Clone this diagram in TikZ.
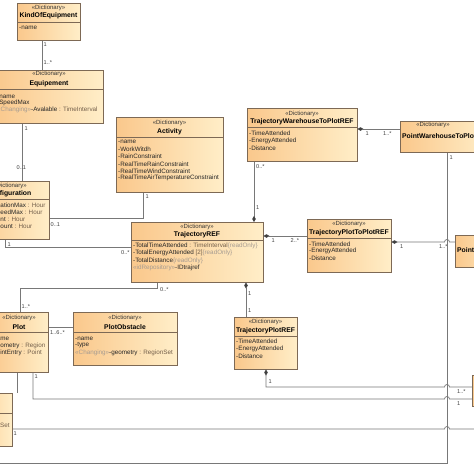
\documentclass[tikz,border=0pt]{standalone}
\usepackage{fontspec}
\setmainfont{Liberation Sans}
\usetikzlibrary{arrows.meta,shadows}
\definecolor{clsdark}{RGB}{250,200,140}
\definecolor{clslight}{RGB}{255,238,200}
\definecolor{clsline}{RGB}{125,105,85}
\definecolor{linegray}{RGB}{120,120,120}
\definecolor{ctype}{RGB}{115,95,75}
\definecolor{cgray}{RGB}{165,155,145}
\begin{document}
\begin{tikzpicture}[x=1pt, y=-1pt,
    cls/.style={rectangle, draw=clsline, line width=0.5pt, left color=clsdark, right color=clslight,
      anchor=north west, inner sep=0pt, drop shadow={shadow xshift=1.2pt, shadow yshift=-1.2pt, opacity=0.25}},
    sep/.style={draw=clsline, line width=0.4pt},
    stereo/.style={font=\fontsize{6}{7}\selectfont, text=black!80, inner sep=0pt},
    ttl/.style={font=\fontsize{6.8}{8}\selectfont\bfseries, inner sep=0pt},
    attr/.style={font=\fontsize{6.3}{7}\selectfont, text=black!85, anchor=west, inner sep=0pt},
    mult/.style={font=\fontsize{5.6}{6}\selectfont, text=black!75, anchor=west, inner sep=0pt},
    assoc/.style={draw=linegray, line width=0.7pt},
    comp/.style={assoc, {Diamond[length=6pt, width=3.5pt, color=black!75, fill=black!75]}-}]
  \fill[white] (0,0) rectangle (474,474);
  \useasboundingbox (0,0) rectangle (474,474);
  \clip (0,0) rectangle (474,474);

  % classes
  \node[cls, minimum width=63pt, minimum height=37pt] (kind) at (17,3) {};
  \draw[sep] (kind.west |- 0,22) -- (kind.east |- 0,22);
  \node[stereo] (kind-s) at (48.5,8) {«Dictionary»};
  \node[ttl] (kind-t) at (48.5,16) {KindOfEquipment};
  \node[attr] (kind-a1) at (19,28) {-name};

  \node[cls, minimum width=108pt, minimum height=53pt] (equip) at (-5,70) {};
  \draw[sep] (equip.west |- 0,89) -- (equip.east |- 0,89);
  \node[stereo] (equip-s) at (49,73.5) {«Dictionary»};
  \node[ttl] (equip-t) at (49,83.5) {Equipement};
  \node[attr] (equip-a1) at (-3,96.5) {-name};
  \node[attr] (equip-a2) at (-3,103) {-SpeedMax};
  \node[attr] (equip-a3) at (-3,110) {\textcolor{cgray}{«Changing»}-Avalable \textcolor{ctype}{: TimeInterval}};

  \node[cls, minimum width=78pt, minimum height=58pt] (config) at (-29,181) {};
  \draw[sep] (config.west |- 0,199) -- (config.east |- 0,199);
  \node[stereo] (config-s) at (10,185.5) {«Dictionary»};
  \node[ttl] (config-t) at (9,194) {Configuration};
  \node[attr] (config-a1) at (0.3,205) {ationMax \textcolor{ctype}{: Hour}};
  \node[attr] (config-a2) at (0.3,212) {eedMax \textcolor{ctype}{: Hour}};
  \node[attr] (config-a3) at (0.3,219) {nt \textcolor{ctype}{: Hour}};
  \node[attr] (config-a4) at (0.3,226) {ount \textcolor{ctype}{: Hour}};

  \node[cls, minimum width=107pt, minimum height=75pt] (activity) at (116,117) {};
  \draw[sep] (activity.west |- 0,137) -- (activity.east |- 0,137);
  \node[stereo] (activity-s) at (169.5,123) {«Dictionary»};
  \node[ttl] (activity-t) at (169.5,131.5) {Activity};
  \node[attr] (activity-a1) at (118,142.3) {-name};
  \node[attr] (activity-a2) at (118,149.5) {-WorkWitdh};
  \node[attr] (activity-a3) at (118,156.7) {-RainConstraint};
  \node[attr] (activity-a4) at (118,163.9) {-RealTimeRainConstraint};
  \node[attr] (activity-a5) at (118,171.1) {-RealTimeWindConstraint};
  \node[attr] (activity-a6) at (118,178.3) {-RealTimeAirTemperatureConstraint};

  \node[cls, minimum width=132pt, minimum height=60pt] (trajref) at (131,222) {};
  \draw[sep] (trajref.west |- 0,240.5) -- (trajref.east |- 0,240.5);
  \node[stereo] (trajref-s) at (197,226.5) {«Dictionary»};
  \node[ttl] (trajref-t) at (197,235) {TrajectoryREF};
  \node[attr] (trajref-a1) at (133,246) {-TotalTimeAttended \textcolor{ctype}{: TimeInterval}\textcolor{cgray}{\{readOnly\}}};
  \node[attr] (trajref-a2) at (133,253.3) {-TotalEnergyAttended \textcolor{ctype}{[2]}\textcolor{cgray}{\{readOnly\}}};
  \node[attr] (trajref-a3) at (133,260.6) {-TotalDistance\textcolor{cgray}{\{readOnly\}}};
  \node[attr] (trajref-a4) at (133,268) {\textcolor{cgray}{«idRepository»}-IDtrajref};

  \node[cls, minimum width=110pt, minimum height=53pt] (twp) at (247,108) {};
  \draw[sep] (twp.west |- 0,127) -- (twp.east |- 0,127);
  \node[stereo] (twp-s) at (302,113.5) {«Dictionary»};
  \node[ttl] (twp-t) at (302,122) {TrajectoryWarehouseToPlotREF};
  \node[attr] (twp-a1) at (249,133) {-TimeAttended};
  \node[attr] (twp-a2) at (249,140.5) {-EnergyAttended};
  \node[attr] (twp-a3) at (249,148) {-Distance};

  \node[cls, minimum width=84pt, minimum height=53pt] (tpp) at (307,219) {};
  \draw[sep] (tpp.west |- 0,238) -- (tpp.east |- 0,238);
  \node[stereo] (tpp-s) at (349,224) {«Dictionary»};
  \node[ttl] (tpp-t) at (349,232.5) {TrajectoryPlotToPlotREF};
  \node[attr] (tpp-a1) at (309,244) {-TimeAttended};
  \node[attr] (tpp-a2) at (309,251.3) {-EnergyAttended};
  \node[attr] (tpp-a3) at (309,258.6) {-Distance};

  \node[cls, minimum width=90pt, minimum height=31pt] (pwp) at (400,121) {};
  \node[stereo] (pwp-s) at (433,124.5) {«Dictionary»};
  \node[ttl, anchor=west] (pwp-t) at (402,136) {PointWarehouseToPlot};

  \node[cls, minimum width=50pt, minimum height=32pt] (point) at (455,235) {};
  \node[ttl, anchor=west] (point-t) at (457,250) {Point};

  \node[cls, minimum width=63pt, minimum height=52pt] (tpr) at (234,317) {};
  \draw[sep] (tpr.west |- 0,336) -- (tpr.east |- 0,336);
  \node[stereo] (tpr-s) at (265.5,322) {«Dictionary»};
  \node[ttl] (tpr-t) at (265.5,331) {TrajectoryPlotREF};
  \node[attr] (tpr-a1) at (236,341.5) {-TimeAttended};
  \node[attr] (tpr-a2) at (236,349) {-EnergyAttended};
  \node[attr] (tpr-a3) at (236,356.3) {-Distance};

  \node[cls, minimum width=58pt, minimum height=60pt] (plot) at (-10,312) {};
  \draw[sep] (plot.west |- 0,332) -- (plot.east |- 0,332);
  \node[stereo] (plot-s) at (19,318) {«Dictionary»};
  \node[ttl] (plot-t) at (19,327) {Plot};
  \node[attr] (plot-a1) at (-9,338.5) {-name};
  \node[attr] (plot-a2) at (-9,345.5) {-geometry \textcolor{ctype}{: Region}};
  \node[attr] (plot-a3) at (-9,352.5) {-pointEntry \textcolor{ctype}{: Point}};

  \node[cls, minimum width=104pt, minimum height=53pt] (obst) at (73,312) {};
  \draw[sep] (obst.west |- 0,332) -- (obst.east |- 0,332);
  \node[stereo] (obst-s) at (125,318) {«Dictionary»};
  \node[ttl] (obst-t) at (125,327) {PlotObstacle};
  \node[attr] (obst-a1) at (75,338.5) {-name};
  \node[attr] (obst-a2) at (75,345.5) {-type};
  \node[attr] (obst-a3) at (75,352.5) {\textcolor{cgray}{«Changing»}-geometry \textcolor{ctype}{: RegionSet}};

  \node[cls, minimum width=42pt, minimum height=53pt] (blbox) at (-30,393) {};
  \draw[sep] (blbox.west |- 0,413) -- (blbox.east |- 0,413);
  \node[attr, text=ctype] (blbox-a1) at (0,425) {Set};

  \node[cls, minimum width=40pt, minimum height=31pt] (rbox) at (472,375) {};

  \coordinate (offr) at (490,429);
  \coordinate (offl) at (-10,463);

  % associations
  \draw[assoc] (kind.south -| 42,0) -- (equip.north -| 42,0);
  \node[mult] (m1a) at (43.5,44.5) {1};
  \node[mult] (m1b) at (43.5,63) {1..*};

  \draw[assoc] (equip.south -| 22,0) -- (config.north -| 22,0);
  \node[mult] (m2a) at (24.5,128.5) {1};
  \node[mult] (m2b) at (16.5,168) {0..1};

  \draw[assoc] (activity.south -| 143,0) -- (143,218) -- (config.east |- 0,218);
  \node[mult] (m3a) at (145.5,197) {1};
  \node[mult] (m3b) at (50.5,224.5) {0..1};

  \draw[assoc] (config.south -| 5,0) -- (5,247) -- (trajref.west |- 0,247);
  \node[mult] (m4a) at (7.5,245) {1};
  \node[mult] (m4b) at (121,253) {0..*};

  \draw[assoc] (trajref.south -| 157,0) -- (157,288) -- (20,288) -- (plot.north -| 20,0);
  \node[mult] (m5a) at (160,289.5) {0..*};
  \node[mult] (m5b) at (21.5,306.5) {1..*};

  \draw[comp] (trajref.north -| 254,0) -- (twp.south -| 254,0);
  \node[mult] (m6a) at (256,166.5) {0..*};
  \node[mult] (m6b) at (256,208) {1};

  \draw[comp] (trajref.east |- 0,236) -- (tpp.west |- 0,236);
  \node[mult] (m7a) at (271.5,241) {1};
  \node[mult] (m7b) at (290.5,241) {2..*};

  \draw[comp] (twp.east |- 0,129) -- (pwp.west |- 0,129);
  \node[mult] (m8a) at (365.5,134) {1};
  \node[mult] (m8b) at (383,134) {1..*};

  \draw[comp] (tpp.east |- 0,242) -- (444.5,242) arc[start angle=180, end angle=0, radius=2.5pt] -- (point.west |- 0,242);
  \node[mult] (m9a) at (400,247) {1};
  \node[mult] (m9b) at (439,247) {1..*};

  \draw[comp] (trajref.south -| 246,0) -- (tpr.north -| 246,0);
  \node[mult] (m10a) at (248,294) {1};
  \node[mult] (m10b) at (248,311) {1};

  \draw[comp] (tpr.south -| 266,0) -- (266,387) -- (444.5,387) arc[start angle=180, end angle=0, radius=2.5pt] -- (rbox.west |- 0,387);
  \node[mult] (m11a) at (268.5,382) {1};
  \node[mult] (m11b) at (457,392) {1..*};

  \draw[assoc] (plot.south -| 33,0) -- (33,399) -- (444.5,399) arc[start angle=180, end angle=0, radius=2.5pt] -- (rbox.west |- 0,399);
  \node[mult] (m12a) at (34.5,377) {1};
  \node[mult] (m12b) at (457,404) {1};

  \draw[assoc] (plot.south -| 17,0) -- (blbox.north -| 17,0);

  \draw[assoc] (plot.east |- 0,327) -- (obst.west |- 0,327);
  \node[mult] (m13) at (50,332.5) {1..6..*};

  \draw[assoc] (blbox.east |- 0,429) -- (444.5,429) arc[start angle=180, end angle=0, radius=2.5pt] -- (offr);
  \node[mult] (m14) at (13.5,434) {1};

  \draw[assoc] (pwp.south -| 447,0) -- (447,463) -- (offl);
  \node[mult] (m15) at (449.5,157.5) {1};
\end{tikzpicture}
\end{document}
